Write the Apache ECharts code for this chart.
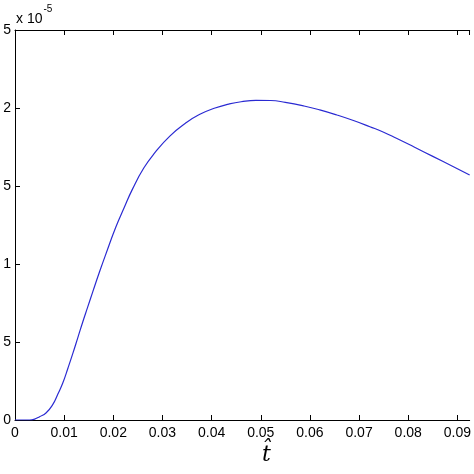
<!DOCTYPE html>
<html>
<head>
<meta charset="utf-8">
<script src="https://cdn.jsdelivr.net/npm/echarts@6/dist/echarts.min.js"></script>
<style>
html,body{margin:0;padding:0;background:#fff;}
#chart{width:474px;height:474px;}
</style>
</head>
<body>
<div id="chart"></div>
<script>
// time values (t-hat)
const tValues = [0.000, 0.003, 0.004, 0.0050, 0.0063, 0.0077, 0.0087, 0.0097, 0.0108, 0.0118, 0.0128, 0.0138, 0.0148, 0.0158, 0.0172, 0.0185, 0.0205, 0.0222, 0.0239, 0.0262, 0.0285, 0.0315, 0.0346, 0.0375, 0.0407, 0.0435, 0.0460, 0.0490, 0.0520, 0.0550, 0.0588, 0.0620, 0.0655, 0.0690, 0.0722, 0.0750, 0.0776, 0.0812, 0.0850, 0.0888, 0.0925];
// response values, in units of 1e-5
const yValues = [0.000, 0.000, 0.006, 0.021, 0.045, 0.100, 0.165, 0.235, 0.335, 0.430, 0.530, 0.630, 0.725, 0.820, 0.950, 1.065, 1.235, 1.360, 1.480, 1.615, 1.715, 1.820, 1.900, 1.958, 2.000, 2.025, 2.040, 2.049, 2.048, 2.036, 2.013, 1.988, 1.955, 1.918, 1.880, 1.845, 1.806, 1.750, 1.690, 1.630, 1.570];
// y tick labels as visible in the (cropped) reference
const yTickValues = [0, 0.5, 1, 1.5, 2, 2.5];
const yTickLabels = ['0', '5', '1', '5', '2', '5'];
const xTickLabels = ['0', '0.01', '0.02', '0.03', '0.04', '0.05', '0.06', '0.07', '0.08', '0.09'];

const chart = echarts.init(document.getElementById('chart'), null, {renderer: 'canvas'});
const font = 'Arial, "Liberation Sans", sans-serif';
const data = tValues.map((t, i) => [t, yValues[i]]);

chart.setOption({
  animation: false,
  backgroundColor: '#ffffff',
  grid: {left: 15, top: 30, right: 0, bottom: 54, containLabel: false},
  xAxis: [{
    type: 'value', min: 0, max: 0.0925, interval: 0.01,
    axisLine: {show: true, onZero: false, lineStyle: {color: '#000', width: 1}},
    axisTick: {show: true, inside: true, length: 5, lineStyle: {color: '#000'}},
    splitLine: {show: false},
    axisLabel: {
      margin: 6, color: '#000', fontSize: 14, fontFamily: font, showMaxLabel: false,
      formatter: function (v) {
        const idx = Math.round(v / 0.01);
        if (Math.abs(v - idx * 0.01) > 1e-9) return '';
        return xTickLabels[idx] !== undefined ? xTickLabels[idx] : '';
      }
    }
  }, {
    type: 'value', position: 'top', min: 0, max: 0.0925, interval: 0.01,
    axisLine: {show: true, onZero: false, lineStyle: {color: '#000', width: 1}},
    axisTick: {show: true, inside: true, length: 5, lineStyle: {color: '#000'}},
    axisLabel: {show: false},
    splitLine: {show: false}
  }],
  yAxis: [{
    type: 'value', min: 0, max: 2.5, interval: 0.5,
    axisLine: {show: true, onZero: false, lineStyle: {color: '#000', width: 1}},
    axisTick: {show: true, inside: true, length: 5, lineStyle: {color: '#000'}},
    splitLine: {show: false},
    axisLabel: {
      margin: 4, color: '#000', fontSize: 14, fontFamily: font,
      formatter: function (v) {
        const i = yTickValues.findIndex(x => Math.abs(x - v) < 1e-9);
        return i >= 0 ? yTickLabels[i] : '';
      }
    }
  }],
  graphic: [{
    type: 'text', left: 16, top: 4,
    style: {
      text: '{a|x 10}{s|-5}',
      rich: {
        a: {fontSize: 14, fontFamily: font, fill: '#000', padding: [8, 0, 0, 0]},
        s: {fontSize: 10, fontFamily: font, fill: '#000', verticalAlign: 'top', padding: [0, 0, 0, 1]}
      }
    }
  }, {
    type: 'text', left: 262, top: 444,
    style: {text: 't\u0302', fontSize: 22, fontStyle: 'italic', fontFamily: '"DejaVu Serif", "Liberation Serif", serif', fill: '#000'}
  }],
  series: [{
    type: 'line', data: data, xAxisIndex: 0, yAxisIndex: 0,
    showSymbol: false, smooth: 0.5,
    lineStyle: {color: '#2a2ad2', width: 1.2},
    clip: true
  }]
});
</script>
</body>
</html>
